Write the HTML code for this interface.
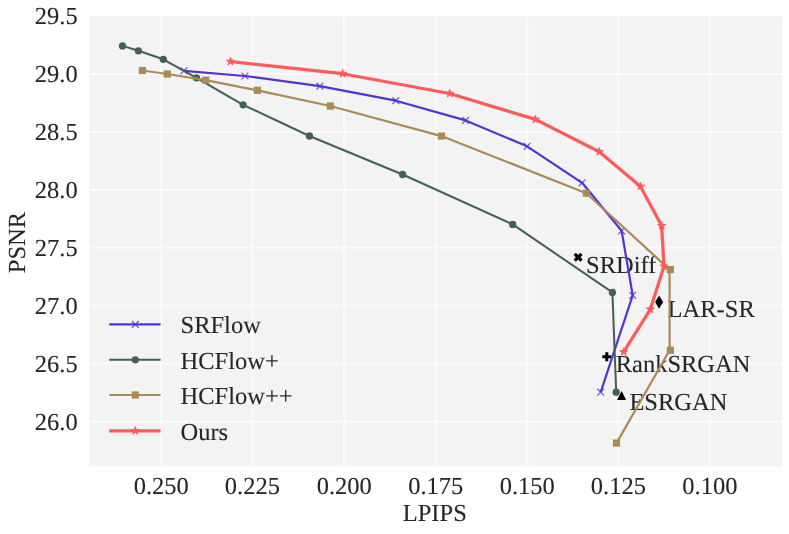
<!DOCTYPE html>
<html><head><meta charset="utf-8"><style>
html,body{margin:0;padding:0;background:#fff;}
body{width:789px;height:534px;overflow:hidden;}
svg{display:block;}
#w{width:789px;height:534px;}
text{font-family:"Liberation Serif", "DejaVu Serif", serif;font-size:24.5px;fill:#262626;stroke:#262626;stroke-width:0.1px;text-rendering:geometricPrecision;}
</style></head><body>
<div id="w"><svg width="789" height="534" viewBox="0 0 789 534">
<rect x="89.3" y="16.2" width="692.7" height="450.0" fill="#f3f3f3"/>
<line x1="161.2" y1="16.2" x2="161.2" y2="466.2" stroke="#fbfbfb" stroke-width="1.8"/>
<line x1="252.4" y1="16.2" x2="252.4" y2="466.2" stroke="#fbfbfb" stroke-width="1.8"/>
<line x1="344.2" y1="16.2" x2="344.2" y2="466.2" stroke="#fbfbfb" stroke-width="1.8"/>
<line x1="435.8" y1="16.2" x2="435.8" y2="466.2" stroke="#fbfbfb" stroke-width="1.8"/>
<line x1="527.2" y1="16.2" x2="527.2" y2="466.2" stroke="#fbfbfb" stroke-width="1.8"/>
<line x1="618.4" y1="16.2" x2="618.4" y2="466.2" stroke="#fbfbfb" stroke-width="1.8"/>
<line x1="709.9" y1="16.2" x2="709.9" y2="466.2" stroke="#fbfbfb" stroke-width="1.8"/>
<line x1="89.3" y1="74.0" x2="782.0" y2="74.0" stroke="#fbfbfb" stroke-width="1.8"/>
<line x1="89.3" y1="132.0" x2="782.0" y2="132.0" stroke="#fbfbfb" stroke-width="1.8"/>
<line x1="89.3" y1="190.0" x2="782.0" y2="190.0" stroke="#fbfbfb" stroke-width="1.8"/>
<line x1="89.3" y1="247.8" x2="782.0" y2="247.8" stroke="#fbfbfb" stroke-width="1.8"/>
<line x1="89.3" y1="305.7" x2="782.0" y2="305.7" stroke="#fbfbfb" stroke-width="1.8"/>
<line x1="89.3" y1="363.6" x2="782.0" y2="363.6" stroke="#fbfbfb" stroke-width="1.8"/>
<line x1="89.3" y1="421.5" x2="782.0" y2="421.5" stroke="#fbfbfb" stroke-width="1.8"/>
<polygon points="605.3,352.3 608.3,352.3 608.3,355.3 611.3,355.3 611.3,358.3 608.3,358.3 608.3,361.3 605.3,361.3 605.3,358.3 602.3,358.3 602.3,355.3 605.3,355.3" fill="#000"/>
<polygon points="580.4,252.8 582.6,255.0 580.4,257.3 582.6,259.6 580.4,261.8 578.1,259.6 575.8,261.8 573.6,259.6 575.8,257.3 573.6,255.0 575.8,252.8 578.1,255.0" fill="#000"/>
<polygon points="659.10,295.40 663.10,302.10 659.10,308.80 655.10,302.10" fill="#000"/>
<polygon points="621.60,391.00 626.10,400.00 617.10,400.00" fill="#000"/>
<text x="586.0" y="272.50" text-anchor="start" >SRDiff</text>
<text x="667.6" y="316.60" text-anchor="start" >LAR-SR</text>
<text x="615.7" y="372.30" text-anchor="start" >RankSRGAN</text>
<text x="629.4" y="409.60" text-anchor="start" >ESRGAN</text>
<polyline points="184.0,70.8 245.0,76.0 319.9,86.1 395.8,100.7 465.6,120.4 527.1,146.3 582.1,182.8 621.6,230.8 632.7,295.3 600.7,392.2" fill="none" stroke="#5532cf" stroke-width="2.2" stroke-linejoin="round" stroke-linecap="butt"/>
<path d="M180.60,67.40L187.40,74.20M180.60,74.20L187.40,67.40" stroke="#5532cf" stroke-width="1.3" stroke-opacity="0.8" fill="none"/>
<path d="M241.60,72.60L248.40,79.40M241.60,79.40L248.40,72.60" stroke="#5532cf" stroke-width="1.3" stroke-opacity="0.8" fill="none"/>
<path d="M316.50,82.70L323.30,89.50M316.50,89.50L323.30,82.70" stroke="#5532cf" stroke-width="1.3" stroke-opacity="0.8" fill="none"/>
<path d="M392.40,97.30L399.20,104.10M392.40,104.10L399.20,97.30" stroke="#5532cf" stroke-width="1.3" stroke-opacity="0.8" fill="none"/>
<path d="M462.20,117.00L469.00,123.80M462.20,123.80L469.00,117.00" stroke="#5532cf" stroke-width="1.3" stroke-opacity="0.8" fill="none"/>
<path d="M523.70,142.90L530.50,149.70M523.70,149.70L530.50,142.90" stroke="#5532cf" stroke-width="1.3" stroke-opacity="0.8" fill="none"/>
<path d="M578.70,179.40L585.50,186.20M578.70,186.20L585.50,179.40" stroke="#5532cf" stroke-width="1.3" stroke-opacity="0.8" fill="none"/>
<path d="M618.20,227.40L625.00,234.20M618.20,234.20L625.00,227.40" stroke="#5532cf" stroke-width="1.3" stroke-opacity="0.8" fill="none"/>
<path d="M629.30,291.90L636.10,298.70M629.30,298.70L636.10,291.90" stroke="#5532cf" stroke-width="1.3" stroke-opacity="0.8" fill="none"/>
<path d="M597.30,388.80L604.10,395.60M597.30,395.60L604.10,388.80" stroke="#5532cf" stroke-width="1.3" stroke-opacity="0.8" fill="none"/>
<polyline points="122.5,45.9 138.4,50.8 163.3,59.3 196.5,77.8 243.1,104.8 309.4,136.0 402.6,174.5 512.7,224.4 612.4,292.4 616.2,392.2" fill="none" stroke="#435f57" stroke-width="2.0" stroke-linejoin="round" stroke-linecap="butt"/>
<circle cx="122.5" cy="45.9" r="3.65" fill="#435f57"/>
<circle cx="138.4" cy="50.8" r="3.65" fill="#435f57"/>
<circle cx="163.3" cy="59.3" r="3.65" fill="#435f57"/>
<circle cx="196.5" cy="77.8" r="3.65" fill="#435f57"/>
<circle cx="243.1" cy="104.8" r="3.65" fill="#435f57"/>
<circle cx="309.4" cy="136.0" r="3.65" fill="#435f57"/>
<circle cx="402.6" cy="174.5" r="3.65" fill="#435f57"/>
<circle cx="512.7" cy="224.4" r="3.65" fill="#435f57"/>
<circle cx="612.4" cy="292.4" r="3.65" fill="#435f57"/>
<circle cx="616.2" cy="392.2" r="3.65" fill="#435f57"/>
<polyline points="142.4,70.5 167.3,74.0 205.7,80.2 257.4,90.3 330.3,106.0 441.5,136.1 586.4,193.2 669.6,269.6 669.6,350.3 616.5,443.1" fill="none" stroke="#aa8a57" stroke-width="2.2" stroke-linejoin="round" stroke-linecap="butt"/>
<rect x="138.80" y="66.90" width="7.2" height="7.2" fill="#aa8a57"/>
<rect x="163.70" y="70.40" width="7.2" height="7.2" fill="#aa8a57"/>
<rect x="202.10" y="76.60" width="7.2" height="7.2" fill="#aa8a57"/>
<rect x="253.80" y="86.70" width="7.2" height="7.2" fill="#aa8a57"/>
<rect x="326.70" y="102.40" width="7.2" height="7.2" fill="#aa8a57"/>
<rect x="437.90" y="132.50" width="7.2" height="7.2" fill="#aa8a57"/>
<rect x="582.80" y="189.60" width="7.2" height="7.2" fill="#aa8a57"/>
<rect x="666.80" y="266.00" width="7.2" height="7.2" fill="#aa8a57"/>
<rect x="666.80" y="346.70" width="7.2" height="7.2" fill="#aa8a57"/>
<rect x="612.90" y="439.50" width="7.2" height="7.2" fill="#aa8a57"/>
<polyline points="230.4,61.5 342.6,73.7 449.7,93.5 535.4,119.4 599.2,151.8 640.5,186.4 661.6,225.8 664.0,266.3 650.3,309.3 623.7,351.9" fill="none" stroke="#ff5a5a" stroke-width="3.2" stroke-linejoin="round" stroke-linecap="butt"/>
<polygon points="230.4,57.2 229.4,60.2 226.3,60.2 228.8,62.0 227.9,65.0 230.4,63.1 232.9,65.0 232.0,62.0 234.5,60.2 231.4,60.2" fill="#ff5a5a" stroke="#ff5a5a" stroke-width="0.9" stroke-linejoin="round"/>
<polygon points="342.6,69.4 341.6,72.4 338.5,72.4 341.0,74.2 340.1,77.2 342.6,75.3 345.1,77.2 344.2,74.2 346.7,72.4 343.6,72.4" fill="#ff5a5a" stroke="#ff5a5a" stroke-width="0.9" stroke-linejoin="round"/>
<polygon points="449.7,89.2 448.7,92.2 445.6,92.2 448.1,94.0 447.2,97.0 449.7,95.1 452.2,97.0 451.3,94.0 453.8,92.2 450.7,92.2" fill="#ff5a5a" stroke="#ff5a5a" stroke-width="0.9" stroke-linejoin="round"/>
<polygon points="535.4,115.1 534.4,118.1 531.3,118.1 533.8,119.9 532.9,122.9 535.4,121.0 537.9,122.9 537.0,119.9 539.5,118.1 536.4,118.1" fill="#ff5a5a" stroke="#ff5a5a" stroke-width="0.9" stroke-linejoin="round"/>
<polygon points="599.2,147.5 598.2,150.5 595.1,150.5 597.6,152.3 596.7,155.3 599.2,153.4 601.7,155.3 600.8,152.3 603.3,150.5 600.2,150.5" fill="#ff5a5a" stroke="#ff5a5a" stroke-width="0.9" stroke-linejoin="round"/>
<polygon points="640.5,182.1 639.5,185.1 636.4,185.1 638.9,186.9 638.0,189.9 640.5,188.0 643.0,189.9 642.1,186.9 644.6,185.1 641.5,185.1" fill="#ff5a5a" stroke="#ff5a5a" stroke-width="0.9" stroke-linejoin="round"/>
<polygon points="661.6,221.5 660.6,224.5 657.5,224.5 660.0,226.3 659.1,229.3 661.6,227.4 664.1,229.3 663.2,226.3 665.7,224.5 662.6,224.5" fill="#ff5a5a" stroke="#ff5a5a" stroke-width="0.9" stroke-linejoin="round"/>
<polygon points="664.0,262.0 663.0,265.0 659.9,265.0 662.4,266.8 661.5,269.8 664.0,267.9 666.5,269.8 665.6,266.8 668.1,265.0 665.0,265.0" fill="#ff5a5a" stroke="#ff5a5a" stroke-width="0.9" stroke-linejoin="round"/>
<polygon points="650.3,305.0 649.3,308.0 646.2,308.0 648.7,309.8 647.8,312.8 650.3,310.9 652.8,312.8 651.9,309.8 654.4,308.0 651.3,308.0" fill="#ff5a5a" stroke="#ff5a5a" stroke-width="0.9" stroke-linejoin="round"/>
<polygon points="623.7,347.6 622.7,350.6 619.6,350.6 622.1,352.4 621.2,355.4 623.7,353.5 626.2,355.4 625.3,352.4 627.8,350.6 624.7,350.6" fill="#ff5a5a" stroke="#ff5a5a" stroke-width="0.9" stroke-linejoin="round"/>
<text x="161.2" y="494.20" text-anchor="middle" >0.250</text>
<text x="252.4" y="494.20" text-anchor="middle" >0.225</text>
<text x="344.2" y="494.20" text-anchor="middle" >0.200</text>
<text x="435.8" y="494.20" text-anchor="middle" >0.175</text>
<text x="527.2" y="494.20" text-anchor="middle" >0.150</text>
<text x="618.4" y="494.20" text-anchor="middle" >0.125</text>
<text x="709.9" y="494.20" text-anchor="middle" >0.100</text>
<text x="77.7" y="24.30" text-anchor="end" >29.5</text>
<text x="77.7" y="82.10" text-anchor="end" >29.0</text>
<text x="77.7" y="140.10" text-anchor="end" >28.5</text>
<text x="77.7" y="198.10" text-anchor="end" >28.0</text>
<text x="77.7" y="255.90" text-anchor="end" >27.5</text>
<text x="77.7" y="313.80" text-anchor="end" >27.0</text>
<text x="77.7" y="371.70" text-anchor="end" >26.5</text>
<text x="77.7" y="429.60" text-anchor="end" >26.0</text>
<text x="434.8" y="520.70" text-anchor="middle" >LPIPS</text>
<text x="25.3" y="242.6" text-anchor="middle" transform="rotate(-90 25.3 242.6)">PSNR</text>
<line x1="109.2" y1="324.4" x2="160.6" y2="324.4" stroke="#5532cf" stroke-width="2.2"/>
<path d="M131.90,321.00L138.70,327.80M131.90,327.80L138.70,321.00" stroke="#5532cf" stroke-width="1.3" stroke-opacity="0.8" fill="none"/>
<text x="180.5" y="333.20" text-anchor="start" >SRFlow</text>
<line x1="109.2" y1="359.8" x2="160.6" y2="359.8" stroke="#435f57" stroke-width="2.0"/>
<circle cx="135.3" cy="359.8" r="3.65" fill="#435f57"/>
<text x="180.5" y="368.60" text-anchor="start" >HCFlow+</text>
<line x1="109.2" y1="395.0" x2="160.6" y2="395.0" stroke="#aa8a57" stroke-width="2.2"/>
<rect x="131.70" y="391.40" width="7.2" height="7.2" fill="#aa8a57"/>
<text x="180.5" y="403.80" text-anchor="start" >HCFlow++</text>
<line x1="109.2" y1="430.8" x2="160.6" y2="430.8" stroke="#ff5a5a" stroke-width="3.2"/>
<polygon points="135.3,426.5 134.3,429.5 131.2,429.5 133.7,431.3 132.8,434.3 135.3,432.4 137.8,434.3 136.9,431.3 139.4,429.5 136.3,429.5" fill="#ff5a5a" stroke="#ff5a5a" stroke-width="0.9" stroke-linejoin="round"/>
<text x="180.5" y="439.60" text-anchor="start" >Ours</text>
</svg></div>
</body></html>
